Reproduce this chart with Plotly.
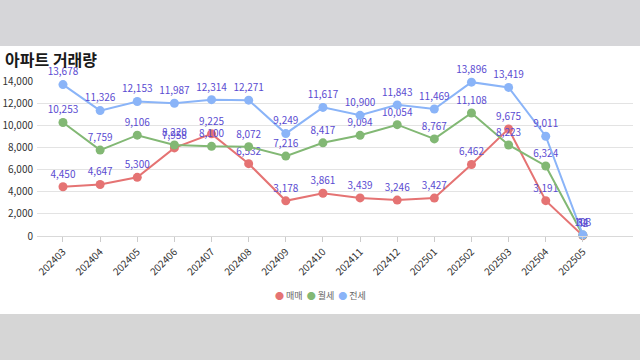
import plotly.graph_objects as go

months = ["202403", "202404", "202405", "202406", "202407", "202408", "202409",
          "202410", "202411", "202412", "202501", "202502", "202503", "202504", "202505"]
maemae = [4450, 4647, 5300, 7958, 9225, 6532, 3178, 3861, 3439, 3246, 3427, 6462, 9675, 3191, 32]
wolse = [10253, 7759, 9106, 8220, 8100, 8072, 7216, 8417, 9094, 10054, 8767, 11108, 8223, 6324, 84]
jeonse = [13678, 11326, 12153, 11987, 12314, 12271, 9249, 11617, 10900, 11843, 11469, 13896, 13419, 9011, 103]

series = [("매매", maemae, "#e57373"), ("월세", wolse, "#82b874"), ("전세", jeonse, "#8ab4f8")]
label_color = "#5a4bd1"
font_family = "Noto Sans CJK KR, Noto Sans, sans-serif"

fig = go.Figure()
for name, vals, color in series:
    fig.add_trace(go.Scatter(
        x=months, y=vals, name=name, mode="lines+markers+text",
        line=dict(color=color, width=2),
        marker=dict(color=color, size=9),
        text=[f"{v:,}" for v in vals], textposition="top center",
        textfont=dict(color=label_color, size=10, family=font_family),
        showlegend=False, cliponaxis=False,
    ))

# compact legend drawn as one text line
legend_html = "&nbsp;&nbsp;".join(
    f"<span style='color:{color}'>●</span> {name}" for name, _, color in series)
fig.add_annotation(text=legend_html, xref="paper", yref="paper",
                   x=(320 - 37) / 596, y=(236 - 295) / 155, xanchor="center", yanchor="middle",
                   showarrow=False, font=dict(size=9, color="#666666", family=font_family))

# gray blurred-looking bands above and below the white card
fig.add_shape(type="rect", xref="paper", yref="paper", x0=-0.2, x1=1.2,
              y0=(236 - 46) / 155, y1=2.0, fillcolor="#d6d6d9", line_width=0, layer="below")
fig.add_shape(type="rect", xref="paper", yref="paper", x0=-0.2, x1=1.2,
              y0=-1.0, y1=(236 - 314) / 155, fillcolor="#d6d6d6", line_width=0, layer="below")

fig.update_layout(
    width=640, height=360,
    margin=dict(l=37, r=7, t=81, b=124),
    paper_bgcolor="white", plot_bgcolor="white",
    font=dict(family=font_family, color="#333333"),
    title=dict(text="아파트 거래량", x=0.008, xref="container", xanchor="left",
               y=1 - 60 / 360, yref="container", yanchor="middle",
               font=dict(size=16, color="#1a1a1a", family=font_family, weight="bold")),
    showlegend=False,
)
fig.update_xaxes(
    type="category", range=[-0.7, 15.35], tickangle=-45, automargin=False,
    tickfont=dict(size=10, color="#333333"),
    ticks="outside", ticklen=5, tickcolor="#cccccc",
    showgrid=False, showline=True, linecolor="#d9d9d9", linewidth=1,
)
fig.update_yaxes(
    range=[0, 14000], dtick=2000, tickformat=",", automargin=False,
    tickfont=dict(size=10, color="#333333"),
    showgrid=True, gridcolor="#e3e3e3", gridwidth=1,
    zeroline=True, zerolinecolor="#d9d9d9", ticks="", ticklabelstandoff=3,
)

fig.write_html("out.html", config={"displayModeBar": False},
               post_script="document.body.style.margin='0';")
